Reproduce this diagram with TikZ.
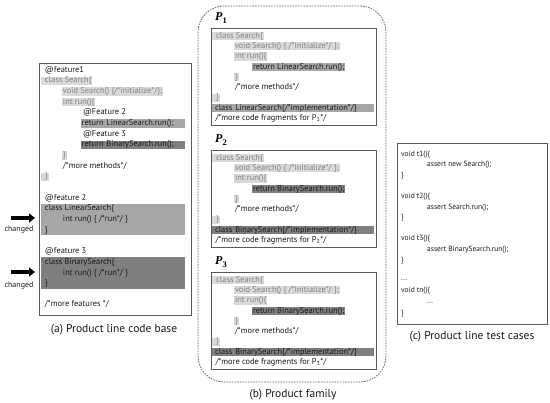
\documentclass[tikz,border=0pt]{standalone}
\usepackage{fontspec}
\setmainfont{PT Sans}
\newfontfamily\pfont{Liberation Serif}
\usetikzlibrary{arrows.meta}
\definecolor{hlL}{HTML}{D9D9D9}
\definecolor{hlM}{HTML}{A6A6A6}
\definecolor{hlD}{HTML}{7F7F7F}
\definecolor{txG}{HTML}{858585}
\definecolor{boxc}{HTML}{5A5A5A}
\definecolor{dashc}{HTML}{6A6A6A}
\definecolor{ink}{HTML}{1A1A1A}
\begin{document}
\begin{tikzpicture}[x=1pt,y=-1pt,
  code/.style={anchor=west, inner xsep=0.8pt, inner ysep=0pt, text height=6.3pt, text depth=2pt, font=\fontsize{8.4}{10}\selectfont, text=ink},
  L/.style={code, fill=hlL, text=txG},
  M/.style={code, fill=hlM},
  D/.style={code, fill=hlD},
  tc/.style={anchor=west, inner sep=0pt, text height=6pt, text depth=1.8pt, font=\fontsize{7.5}{9}\selectfont, text=ink},
  frame/.style={draw=boxc, line width=0.9pt, inner sep=0pt, anchor=north west},
  caption/.style={font=\fontsize{11.5}{13}\selectfont, inner sep=0pt, text=ink},
  plabel/.style={font=\pfont\fontsize{12}{14}\selectfont, inner sep=0pt, anchor=west},
  bigarrow/.style={line width=3.6pt, -{Triangle[width=9pt,length=6pt]}},
  chg/.style={font=\fontsize{8}{9}\selectfont, inner sep=0pt, text=ink}
]
\useasboundingbox (0,0) rectangle (550,403);
\fill[white] (0,0) rectangle (550,403);

% ---------------- (a) code base
\node[frame, minimum width=152pt, minimum height=252pt] (boxa) at (39,63) {};
\fill[hlM] (40.5,203.8) rectangle (185,235.2);
\fill[hlD] (40.5,257) rectangle (185,288.6);
\node[code] (a0) at (44,70) {@feature1};
\node[L] (a1) at (40.5,80.7) {\hspace{3.4pt}class Search\{};
\node[L] (a2) at (62,91.4) {void Search() \{/*initialize*/\};};
\node[L] (a3) at (62,102) {int run()\{};
\node[code] (a4) at (82,112.7) {@Feature 2};
\node[M, minimum width=104pt, align=left, text width=102pt] (a5) at (80.5,123.4) {return LinearSearch.run();};
\node[code] (a6) at (82,134) {@Feature 3};
\node[D, minimum width=104pt, align=left, text width=102pt] (a7) at (80.5,144.7) {return BinarySearch.run();};
\node[L] (a8) at (62,155.4) {\}};
\node[code] (a9) at (62,166) {/*more methods*/};
\node[L] (a10) at (40.5,176.7) {\hspace{3.4pt}\}};
\node[code] (a11) at (44,198) {@feature 2};
\node[code] (a12) at (44,208.7) {class LinearSearch\{};
\node[code] (a13) at (62,219.4) {int run() \{ /*run*/ \}};
\node[code] (a14) at (44,230) {\}};
\node[code] (a15) at (44,251.7) {@feature 3};
\node[code] (a16) at (44,262.4) {class BinarySearch\{};
\node[code] (a17) at (62,273) {int run() \{ /*run*/ \}};
\node[code] (a18) at (44,283.7) {\}};
\node[code] (a19) at (44,304) {/*more features */};
\node[caption] (capa) at (114,330) {(a) Product line code base};

\coordinate (r1s) at (11,218);
\coordinate (r1e) at (35,218);
\coordinate (r2s) at (11,272);
\coordinate (r2e) at (35,272);
\draw[bigarrow] (r1s) -- (r1e);
\draw[bigarrow] (r2s) -- (r2e);
\node[chg] (c1) at (19,230) {changed};
\node[chg] (c2) at (19,286) {changed};

% ---------------- (b) product family
\draw[dashc, line width=0.8pt, dash pattern=on 1.6pt off 1.1pt, rounded corners=26pt] (198,6) rectangle (386,382);

\foreach \T/\k/\cl/\ret/\cls in {28/1/M/LinearSearch/LinearSearch, 150/2/D/BinarySearch/BinarySearch, 272/3/D/BinarySearch/BinarySearch}{
  \node[frame, minimum width=165pt, minimum height=97pt] (p\k) at (211,\T) {};
  \node[plabel] (pl\k) at (215,\T-10) {\textbf{\textit{P}}\raisebox{-2.5pt}{\fontsize{8.5}{9}\selectfont\textbf{\k}}};
  \node[L] (p\k l0) at (211.8,\T+8) {\hspace{3.4pt}class Search\{};
  \node[L] (p\k l1) at (234,\T+18.3) {void Search() \{ /*Initialize*/ \};};
  \node[L] (p\k l2) at (234,\T+28.6) {int run()\{};
  \node[\cl] (p\k l3) at (252,\T+38.9) {return \ret.run();};
  \node[L] (p\k l4) at (234,\T+49.2) {\}};
  \node[code] (p\k l5) at (234,\T+59.5) {/*more methods*/};
  \node[L] (p\k l6) at (211.8,\T+69.8) {\hspace{3.4pt}\}};
  \node[\cl, minimum width=162pt, text width=160pt, align=left] (p\k l7) at (211.8,\T+80.1) {\hspace{2pt}class \cls\{/*implementation*/\}};
  \node[code] (p\k l8) at (214.5,\T+90.4) {/*more code fragments for P\textsubscript{\k}*/};
}
\node[caption] (capb) at (293,395) {(b) Product family};

% ---------------- (c) test cases
\node[frame, minimum width=150pt, minimum height=181pt] (boxc) at (397,143) {};
\node[tc] (t0) at (401,154) {void t1()\{};
\node[tc] (t1) at (427,164.6) {assert new Search();};
\node[tc] (t2) at (401,175.2) {\}};
\node[tc] (t4) at (401,196.4) {void t2()\{};
\node[tc] (t5) at (427,207) {assert Search.run();};
\node[tc] (t6) at (401,217.6) {\}};
\node[tc] (t8) at (401,238.8) {void t3()\{};
\node[tc] (t9) at (427,249.4) {assert BinarySearch.run();};
\node[tc] (t10) at (401,260) {\}};
\node[tc] (t12) at (401,278.5) {...};
\node[tc] (t13) at (401,290.5) {void tn()\{};
\node[tc] (t14) at (427,301.5) {...};
\node[tc] (t15) at (401,313) {\}};
\node[caption] (capc) at (472,337) {(c) Product line test cases};
\end{tikzpicture}
\end{document}
